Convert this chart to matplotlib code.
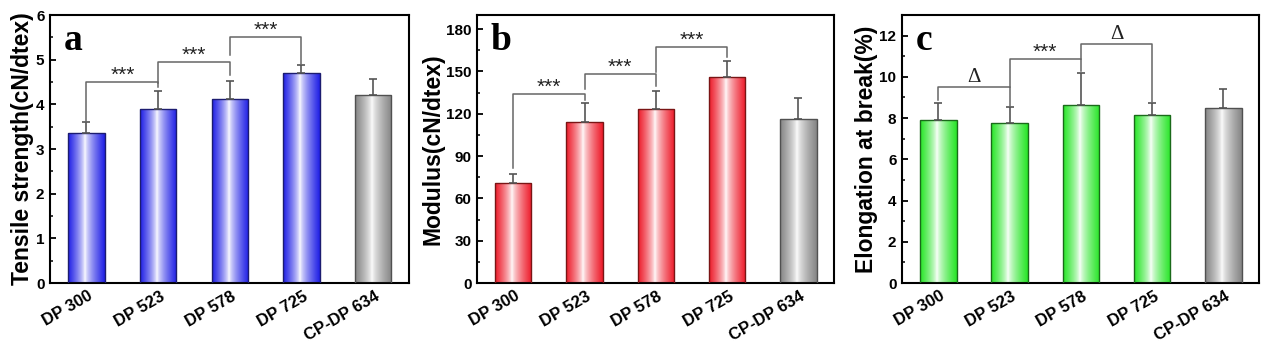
import numpy as np
import matplotlib
matplotlib.use("Agg")
import matplotlib.pyplot as plt
from matplotlib.ticker import MultipleLocator
from matplotlib.transforms import ScaledTranslation

# ================== DONNÉES ==================
categories = ["DP 300", "DP 523", "DP 578", "DP 725", "CP-DP 634"]

tensile = [3.36, 3.89, 4.12, 4.71, 4.21]
tensile_err = [0.24, 0.40, 0.40, 0.17, 0.36]

modulus = [71.1, 114.3, 123.5, 146.0, 116.4]
modulus_err = [6.1, 13.5, 12.8, 11.3, 14.5]

elongation = [7.91, 7.75, 8.64, 8.16, 8.51]
elongation_err = [0.83, 0.80, 1.53, 0.58, 0.90]

# brackets: (i, j, hauteur, fin jambe gauche, fin jambe droite, texte)
brackets_a = [(0, 1, 4.49, 3.61, 4.38, "***"),
              (1, 2, 4.94, 4.47, 4.66, "***"),
              (2, 3, 5.51, 5.10, 4.91, "***")]
brackets_b = [(0, 1, 133.9, 81.2, 129.7, "***"),
              (1, 2, 148.1, 137.2, 139.6, "***"),
              (2, 3, 167.1, 149.5, 160.0, "***")]
brackets_c = [(0, 1, 9.49, 8.87, 8.60, "Δ"),
              (1, 2, 10.85, 9.49, 10.30, "***"),
              (2, 3, 11.58, 10.85, 8.80, "Δ")]

SANS = "Liberation Sans"
SERIF = "Liberation Serif"

colors = {"blue": (0.12, 0.12, 0.90), "red": (0.93, 0.10, 0.16),
          "green": (0.15, 0.90, 0.15), "gray": (0.52, 0.52, 0.52)}
edges = {"blue": "#1c1c70", "red": "#7a1515", "green": "#1a6a1a", "gray": "#505050"}


def gradient(base):
    t = np.linspace(0, 1, 256)
    c = 0.46
    w = np.where(t < c, (c - t) / c, (t - c) / (1 - c))
    w = np.clip(w, 0, 1) ** 0.7
    base = np.array(base)
    img = (1 - w)[:, None] * np.ones(3) + w[:, None] * base
    return img[None, :, :]


def panel(ax, vals, errs, cname, ylim, major, minor, ylabel, letter, brackets):
    x = np.arange(1, len(vals) + 1)
    bars = ax.bar(x, vals, width=0.51, facecolor="none", zorder=3, linewidth=1.0)
    for k, b in enumerate(bars):
        key = cname if k < 4 else "gray"
        b.set_edgecolor(edges[key])
        x0, y0 = b.get_xy()
        im = ax.imshow(gradient(colors[key]), extent=(x0, x0 + b.get_width(), 0, b.get_height()),
                       aspect="auto", zorder=2, interpolation="bilinear")
        im.set_clip_path(b)
    ax.errorbar(x, vals, yerr=[np.zeros(len(errs)), errs], fmt="none", ecolor="#555555",
                elinewidth=1.2, capsize=3, capthick=1.2, zorder=4)

    for i, j, h, yl, yr, txt in brackets:
        xi, xj = x[i], x[j]
        ax.plot([xi, xi, xj, xj], [yl, h, h, yr], color="#666666", lw=1.1, zorder=4)
        if txt == "Δ":
            ax.annotate(txt, (0.5 * (xi + xj), h), xytext=(0, 4), textcoords="offset points",
                        ha="center", va="baseline", fontsize=15, family=SERIF, color="#222222")
        else:
            ax.annotate(txt, (0.5 * (xi + xj), h), xytext=(0, 1), textcoords="offset points",
                        ha="center", va="baseline", fontsize=15, family=SANS, color="#222222")

    ax.set_xlim(0.49, 5.5)
    ax.set_ylim(*ylim)
    ax.yaxis.set_major_locator(MultipleLocator(major))
    ax.yaxis.set_minor_locator(MultipleLocator(minor))
    ax.tick_params(axis="y", which="major", direction="in", length=4.5, width=1.3,
                   labelsize=11, pad=4)
    ax.tick_params(axis="y", which="minor", direction="in", length=2.5, width=1.1)
    ax.tick_params(axis="x", length=0, pad=4)
    for lab in ax.get_yticklabels():
        lab.set_fontweight("bold")
        lab.set_family(SANS)
    ax.set_xticks(x)
    ax.set_xticklabels(categories, rotation=30, ha="right", fontsize=12,
                       fontweight="bold", family=SANS)
    off = ScaledTranslation(9 / 100, 0, ax.figure.dpi_scale_trans)
    for lab in ax.get_xticklabels():
        lab.set_transform(lab.get_transform() + off)
    for s in ax.spines.values():
        s.set_linewidth(1.5)
    ax.set_ylabel(ylabel, fontsize=16.5, fontweight="bold", family=SANS, labelpad=1)
    ax.text(0.039, 0.869, letter, transform=ax.transAxes, fontsize=27,
            fontweight="bold", family=SERIF, va="baseline", ha="left")


fig = plt.figure(figsize=(12.74, 3.51), dpi=100)
h = 0.7635
b0 = 0.1937
ax1 = fig.add_axes([0.0392, b0, 0.2818, h])
ax2 = fig.add_axes([0.3744, b0, 0.2802, h])
ax3 = fig.add_axes([0.7080, b0, 0.2802, h])

panel(ax1, tensile, tensile_err, "blue", (0, 6), 1, 0.5,
      "Tensile strength(cN/dtex)", "a", brackets_a)
panel(ax2, modulus, modulus_err, "red", (0, 190), 30, 15,
      "Modulus(cN/dtex)", "b", brackets_b)
panel(ax3, elongation, elongation_err, "green", (0, 13), 2, 1,
      "Elongation at break(%)", "c", brackets_c)

fig.savefig("out.png", dpi=100)
